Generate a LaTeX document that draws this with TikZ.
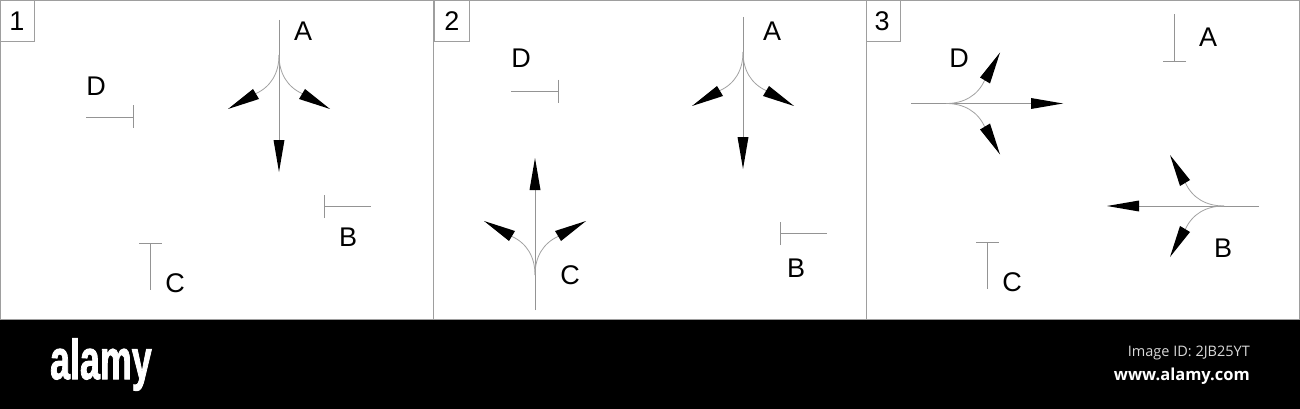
\documentclass[tikz,border=0pt]{standalone}
\usepackage{fontspec}
\setmainfont{Liberation Sans}
\newfontfamily\wmfont{Open Sans}
\newfontfamily\logofont[BoldFeatures={FakeBold=2}]{Liberation Sans}
\tikzset{
  x=1pt,y=-1pt,
  road/.style={draw=black!42,line width=0.9pt},
  curveroad/.style={draw=black!36,line width=0.8pt},
  panelline/.style={draw=black!38,line width=1pt},
  lbl/.style={inner sep=0pt,font=\fontsize{27}{27}\selectfont,text=black},
  numbox/.style={draw=black!38,line width=0.8pt,fill=white},
  fork/.pic={
    \draw[road] (0,-35) -- (0,90);
    \draw[curveroad] (0,0) .. controls (0,18) and (-8,32) .. (-24,39);
    \draw[curveroad] (0,0) .. controls (0,18) and (8,32) .. (24,39);
    \fill[black] (-5.5,85) -- (5.5,85) -- (0,117) -- cycle;
    \fill[black] (-26,34) -- (-20,44) -- (-51,54) -- cycle;
    \fill[black] (26,34) -- (20,44) -- (51,54) -- cycle;
  },
  stopbar/.pic={
    \draw[road] (0,0) -- (0,47);
    \draw[road] (-11.5,0) -- (11.5,0);
  }
}
\begin{document}
\begin{tikzpicture}
\useasboundingbox (0,0) rectangle (1300,409);
\fill[white] (0,0) rectangle (1300,320);
\fill[black] (0,320) rectangle (1300,409);
% panel frame
\draw[panelline] (0.5,320) -- (0.5,0.5) -- (1299.5,0.5) -- (1299.5,320);
\draw[panelline] (433,0) -- (433,320);
\draw[panelline] (866,0) -- (866,320);
\draw[panelline] (0,319.5) -- (1300,319.5);
% number boxes
\draw[numbox] (0.5,0.5) rectangle (34,41);
\draw[numbox] (434.5,0.5) rectangle (469,41);
\draw[numbox] (866.5,0.5) rectangle (900,41);
\node[lbl] (n1) at (17,21) {1};
\node[lbl] (n2) at (452,21) {2};
\node[lbl] (n3) at (882,21) {3};
% panel 1
\pic at (279,55) {fork};
\pic[rotate=-90] at (133,117) {stopbar};
\pic[rotate=90] at (324,206.5) {stopbar};
\pic at (150.5,243) {stopbar};
\node[lbl] (a1) at (303,31) {A};
\node[lbl] (d1) at (96,86) {D};
\node[lbl] (b1) at (348,237) {B};
\node[lbl] (c1) at (175,283) {C};
% panel 2
\pic at (743,52) {fork};
\pic[rotate=180] at (535,275) {fork};
\pic[rotate=-90] at (558,91.5) {stopbar};
\pic[rotate=90] at (780,233.5) {stopbar};
\node[lbl] (a2) at (772,31) {A};
\node[lbl] (d2) at (521,58) {D};
\node[lbl] (b2) at (796,268) {B};
\node[lbl] (c2) at (570,275) {C};
% panel 3
\pic[rotate=90] at (946,103.5) {fork};
\pic[rotate=-90] at (1224,206) {fork};
\pic[rotate=180] at (1174.5,61) {stopbar};
\pic at (987.5,242) {stopbar};
\node[lbl] (a3) at (1208,37) {A};
\node[lbl] (d3) at (959,58) {D};
\node[lbl] (b3) at (1223,248) {B};
\node[lbl] (c3) at (1012,282) {C};
% watermark
\node[anchor=base west,inner sep=0pt,text=white,xscale=.64,transform shape,font=\logofont\fontsize{56}{56}\selectfont\bfseries] (logo) at (50,379) {alamy};
\node[anchor=base east,inner sep=0pt,text=black!15,font=\wmfont\fontsize{14.5}{15}\selectfont] (imgid) at (1250,356) {Image ID: 2JB25YT};
\node[anchor=base east,inner sep=0pt,text=white,font=\wmfont\fontsize{16.5}{17}\selectfont\bfseries] (www) at (1250,380) {www.alamy.com};
\end{tikzpicture}
\end{document}
